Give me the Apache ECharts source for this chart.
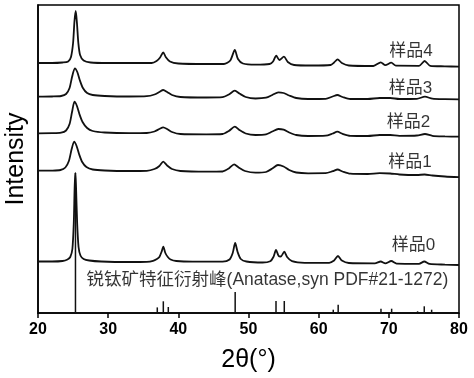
<!DOCTYPE html>
<html>
<head>
<meta charset="utf-8">
<script src="https://cdn.jsdelivr.net/npm/echarts@6/dist/echarts.min.js"></script>
<style>html,body{margin:0;padding:0;background:#fff}#c{width:474px;height:378px}</style>
</head>
<body>
<div id="c"></div>
<script>
// x tick labels (2θ)
const xTicks = [20, 30, 40, 50, 60, 70, 80];

// Sample curves: [2θ, intensity (arbitrary, stacked offsets)]
const sample4 = [[20,250],[22,250],[23.5,250.5],[24.3,251.5],[24.7,256],[25.0,270],[25.2,292],[25.38,302],[25.55,290],[25.75,270],[26.0,258],[26.5,252.5],[27.5,250.5],[30,250],[34,250],[36.2,250],[36.9,252],[37.4,255.5],[37.85,260.7],[38.2,256],[38.8,251.5],[40,249.5],[44,249],[46.5,249],[47.4,252.5],[48.05,263],[48.5,254],[49.2,249.5],[51,248.3],[53.0,249],[53.5,251.5],[53.95,257.3],[54.4,253],[55.05,256.3],[55.6,251],[56.5,248],[59,247.5],[61.7,248],[62.2,250.5],[62.7,253.7],[63.3,250],[64.3,247.5],[67.8,247],[68.85,250.7],[69.5,247.8],[70.35,250.3],[71.0,247.3],[74.3,247.2],[75.1,252],[75.9,247.2],[78,246.7],[80,246.3]];
const sample3 = [[20,216.3],[22,216.5],[23.3,217],[24.0,219],[24.5,225],[24.85,236],[25.25,244.7],[25.6,241],[25.95,233],[26.4,225],[27.0,220],[27.8,218],[29.5,217],[33,216.5],[35.5,216.8],[36.6,218.5],[37.3,221],[37.85,223],[38.4,221],[39.1,218],[40.3,216],[44,215.5],[46.3,215.8],[47.2,218.5],[48.05,222.3],[48.7,219.5],[49.6,216],[51,214.5],[52.5,215.3],[53.4,218],[54.25,220.7],[55.0,220],[55.8,217.5],[56.8,215],[58.5,214],[61.0,214.2],[62.0,216.5],[62.66,218],[63.4,216],[64.5,214],[67,214],[68.7,215],[70.2,215],[71.5,214],[74,214.2],[75.15,216.3],[76.2,214.3],[78,213.8],[80,213.7]];
const sample2 = [[20,179.7],[22,179.8],[23.3,180.3],[24.0,182.5],[24.5,189],[24.85,201],[25.2,211.3],[25.55,207],[25.9,199],[26.35,191],[27.0,185],[27.8,182],[29.5,180.5],[33,179.8],[35.5,180],[36.6,181.5],[37.3,184],[37.85,185.7],[38.4,184],[39.1,181],[40.3,179],[44,178.7],[46.3,179],[47.2,182],[48.05,186.3],[48.7,183],[49.6,179.5],[51,178],[52.5,178.6],[53.4,181.5],[54.25,184],[55.0,183.3],[55.8,180.5],[56.8,178],[58.5,177],[61.0,177.3],[62.0,179.5],[62.66,181.3],[63.4,179.2],[64.5,177.2],[67,177],[68.7,178],[70.2,178],[71.5,177.2],[74,177.5],[75.15,179],[76.2,177.2],[78,176.6],[80,176.3]];
const sample1 = [[20,142.3],[22,142.4],[23.2,143],[23.9,145.5],[24.4,152],[24.8,164],[25.15,171.3],[25.5,167],[25.85,159],[26.3,151],[26.9,146],[27.8,143.5],[29.5,142.5],[33,142],[35.5,142.2],[36.6,144],[37.3,147],[37.85,151.3],[38.4,147.5],[39.1,144],[40.3,142],[44,141.3],[46.3,141.5],[47.2,144.5],[47.95,148.7],[48.6,145.5],[49.5,142],[51,140.3],[52.5,141],[53.4,144.5],[54.2,148],[55.0,146.5],[55.8,143],[56.8,140.5],[58.5,139.7],[61.0,139.8],[62.0,141.8],[62.7,143.5],[63.4,141.5],[64.5,139.3],[67,139],[68.7,139.9],[70.2,139.5],[71.5,138.5],[74,138],[75.1,138.5],[76.2,137.5],[78,136.5],[80,135.8]];
const sample0 = [[20,51.5],[22,51.5],[23.5,52],[24.2,53.5],[24.6,56],[24.9,64],[25.1,90],[25.22,125],[25.32,140],[25.43,124],[25.58,90],[25.78,66],[26.05,57.5],[26.5,54],[27.3,52.5],[29,51.5],[33,51],[35.5,51.2],[36.4,52.2],[36.95,54],[37.3,56],[37.6,61],[37.86,66.3],[38.15,60],[38.5,56],[38.9,53.5],[39.7,52],[42,51.3],[46.3,51.3],[47.3,53.5],[47.75,60],[48.1,70],[48.45,61],[48.9,54],[49.7,51.5],[52,50.5],[53.1,51.8],[53.55,56],[53.92,63],[54.3,57],[54.6,56.5],[55.1,61.3],[55.5,56],[56.2,51.8],[58,50.2],[61.5,50.2],[62.2,52.5],[62.75,57],[63.3,52.5],[64.3,50],[68,49.6],[68.85,51.5],[69.5,49.6],[70.35,52],[71.1,49.4],[74.3,49.2],[75.05,51.5],[75.8,49.1],[78,48.4],[80,48]];

// Reference pattern (Anatase, PDF#21-1272): [2θ, relative height]
const refPeaks = [[25.34,140],[37.0,5.6],[37.86,11.7],[38.57,6],[48.1,21],[53.92,12],[55.1,12],[62.08,3.3],[62.78,8.3],[68.88,4.3],[70.4,4.3],[74.1,1.7],[75.05,6.7],[76.1,3.3]];

// Text labels: name and anchor position [2θ, intensity]
const labelNames = ['样品4','样品3','样品2','样品1','样品0','锐钛矿特征衍射峰(Anatase,syn PDF#21-1272)'];
const labelPos = [[73.16,261.3],[73.1,225],[72.8,191],[73.0,151],[73.5,68],[52.7,33]];
const labelSizes = [17, 17, 17, 17, 17, 17.5];

const FONT = '"Liberation Sans", Arial, "Noto Sans CJK SC", sans-serif';
const chart = echarts.init(document.getElementById('c'), null, {renderer: 'canvas'});

const curveStyle = {color: '#111', width: 1.8};
function curve(data) {
  return {type: 'line', data: data, smooth: 0.25, symbol: 'none', lineStyle: curveStyle, z: 3, silent: true};
}

chart.setOption({
  animation: false,
  backgroundColor: '#fff',
  grid: {left: 38, right: 15, top: 5, bottom: 65, show: true, borderColor: '#000', borderWidth: 1.5,
    backgroundColor: 'transparent', containLabel: false, outerBoundsMode: 'none'},
  xAxis: {
    type: 'value', min: 20, max: 80, interval: 10,
    name: '2θ(°)', nameLocation: 'middle', nameGap: 35,
    nameTextStyle: {fontSize: 25, color: '#000', fontFamily: FONT},
    axisLine: {show: true, lineStyle: {color: '#000', width: 1.5}},
    axisTick: {show: true, inside: false, length: 5, lineStyle: {color: '#000', width: 1.5}},
    axisLabel: {fontSize: 16, color: '#000', margin: 9, fontFamily: FONT, fontWeight: 'bold',
      formatter: function (v) { return xTicks.indexOf(v) >= 0 ? String(v) : ''; }},
    splitLine: {show: false}
  },
  yAxis: {
    type: 'value', min: 0, max: 308,
    name: 'Intensity', nameLocation: 'middle', nameGap: 9,
    nameTextStyle: {fontSize: 25, color: '#000', fontFamily: FONT},
    axisLine: {show: true, lineStyle: {color: '#000', width: 1.5}},
    axisTick: {show: false}, axisLabel: {show: false}, splitLine: {show: false}
  },
  series: [
    {type: 'bar', data: refPeaks, barWidth: 1.5, itemStyle: {color: '#111'}, z: 2, silent: true},
    curve(sample4), curve(sample3), curve(sample2), curve(sample1), curve(sample0),
    {type: 'scatter', symbolSize: 0, z: 5, silent: true,
      data: labelNames.map(function (n, i) {
        return {name: n, value: labelPos[i], label: {fontSize: labelSizes[i]}};
      }),
      label: {show: true, position: 'inside', formatter: '{b}', color: '#000', fontSize: 17, fontFamily: FONT}}
  ]
});
</script>
</body>
</html>
